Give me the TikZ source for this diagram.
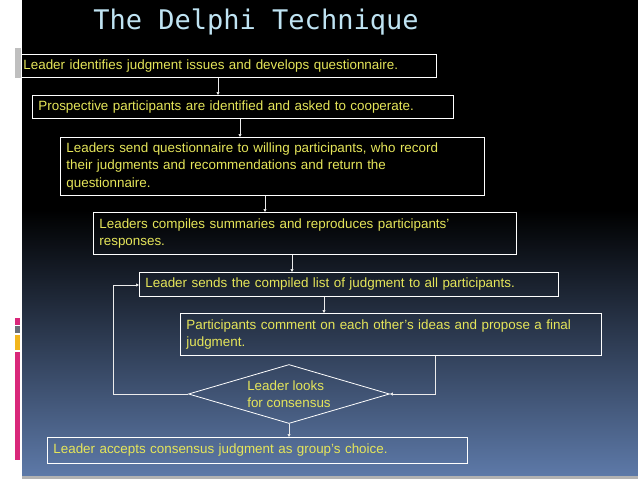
\documentclass[tikz,border=0pt]{standalone}
\usepackage{fontspec}
\setmainfont{Liberation Sans}
\newfontfamily\titlefont{DejaVu Sans Mono}
\usetikzlibrary{shapes.geometric,arrows.meta}
\definecolor{txt}{HTML}{E6E65A}
\definecolor{ttl}{HTML}{BFE3F2}
\definecolor{bot}{HTML}{5D79A8}
\definecolor{pinkb}{HTML}{D9287A}
\definecolor{yelb}{HTML}{F2B51C}
\definecolor{grayb}{HTML}{6A7078}
\tikzset{
  stepbox/.style={draw=white, line width=0.8pt, text=txt, font=\fontsize{13.4}{17.5}\selectfont, align=left, anchor=north west, inner xsep=6pt, inner ysep=2.5pt},
  arr/.style={draw=white!85!gray, line width=0.7pt, -{Triangle[length=3pt,width=3pt]}},
}
\begin{document}
\begin{tikzpicture}[x=1pt,y=-1pt]
\useasboundingbox (0,0) rectangle (638,479);
\fill[white] (0,0) rectangle (638,479);
\fill[black] (22,0) rectangle (638,210);
\shade[top color=black,bottom color=bot] (22,210) rectangle (638,476);
\fill[gray!60] (22,476) rectangle (638,479);
\fill[pinkb] (15,318) rectangle (20,325);
\fill[grayb] (15,326) rectangle (20,333);
\fill[yelb] (15,335) rectangle (20,350);
\fill[pinkb] (15,352) rectangle (20,460);
\fill[gray!50] (15,48) rectangle (21,78);
\node[text=ttl, font=\titlefont\fontsize{27}{30}\selectfont] (title) at (256,22) {The Delphi Technique};
\node[stepbox, text width=411, minimum height=23, inner xsep=2pt] (b1) at (21,54) {Leader identifies judgment issues and develops questionnaire.};
\node[stepbox, text width=409, minimum height=23] (b2) at (32,95) {Prospective participants are identified and asked to cooperate.};
\node[stepbox, text width=412, minimum height=58] (b3) at (60,137) {Leaders send questionnaire to willing participants, who record\\ their judgments and recommendations and return the\\ questionnaire.};
\node[stepbox, text width=411, minimum height=42] (b4) at (93,212) {Leaders compiles summaries and reproduces participants'\\ responses.};
\node[stepbox, text width=407, minimum height=24] (b5) at (139,272) {Leader sends the compiled list of judgment to all participants.};
\node[stepbox, text width=409, minimum height=42] (b6) at (180,313) {Participants comment on each other's ideas and propose a final\\ judgment.};
\node[diamond, draw=white, line width=0.8pt, aspect=2.8, minimum width=201, minimum height=59, inner sep=0pt, text=txt, font=\fontsize{13.4}{17}\selectfont, align=left] (d) at (289,394) {Leader looks\\ for consensus};
\node[stepbox, text width=408, minimum height=26] (b7) at (47,437) {Leader accepts consensus judgment as group's choice.};
\draw[arr] (b1.south -| 218,0) -- (b2.north -| 218,0);
\draw[arr] (b2.south -| 240,0) -- (b3.north -| 240,0);
\draw[arr] (b3.south -| 265,0) -- (b4.north -| 265,0);
\draw[arr] (b4.south -| 292,0) -- (b5.north -| 292,0);
\draw[arr] (b5.south -| 324,0) -- (b6.north -| 324,0);
\draw[arr] (b6.south -| 435,0) |- (d.east);
\draw[arr] (d.west) -| (113,285) -- (b5.west |- 0,285);
\draw[arr] (d.south) -- (b7.north -| d.south);
\end{tikzpicture}
\end{document}
